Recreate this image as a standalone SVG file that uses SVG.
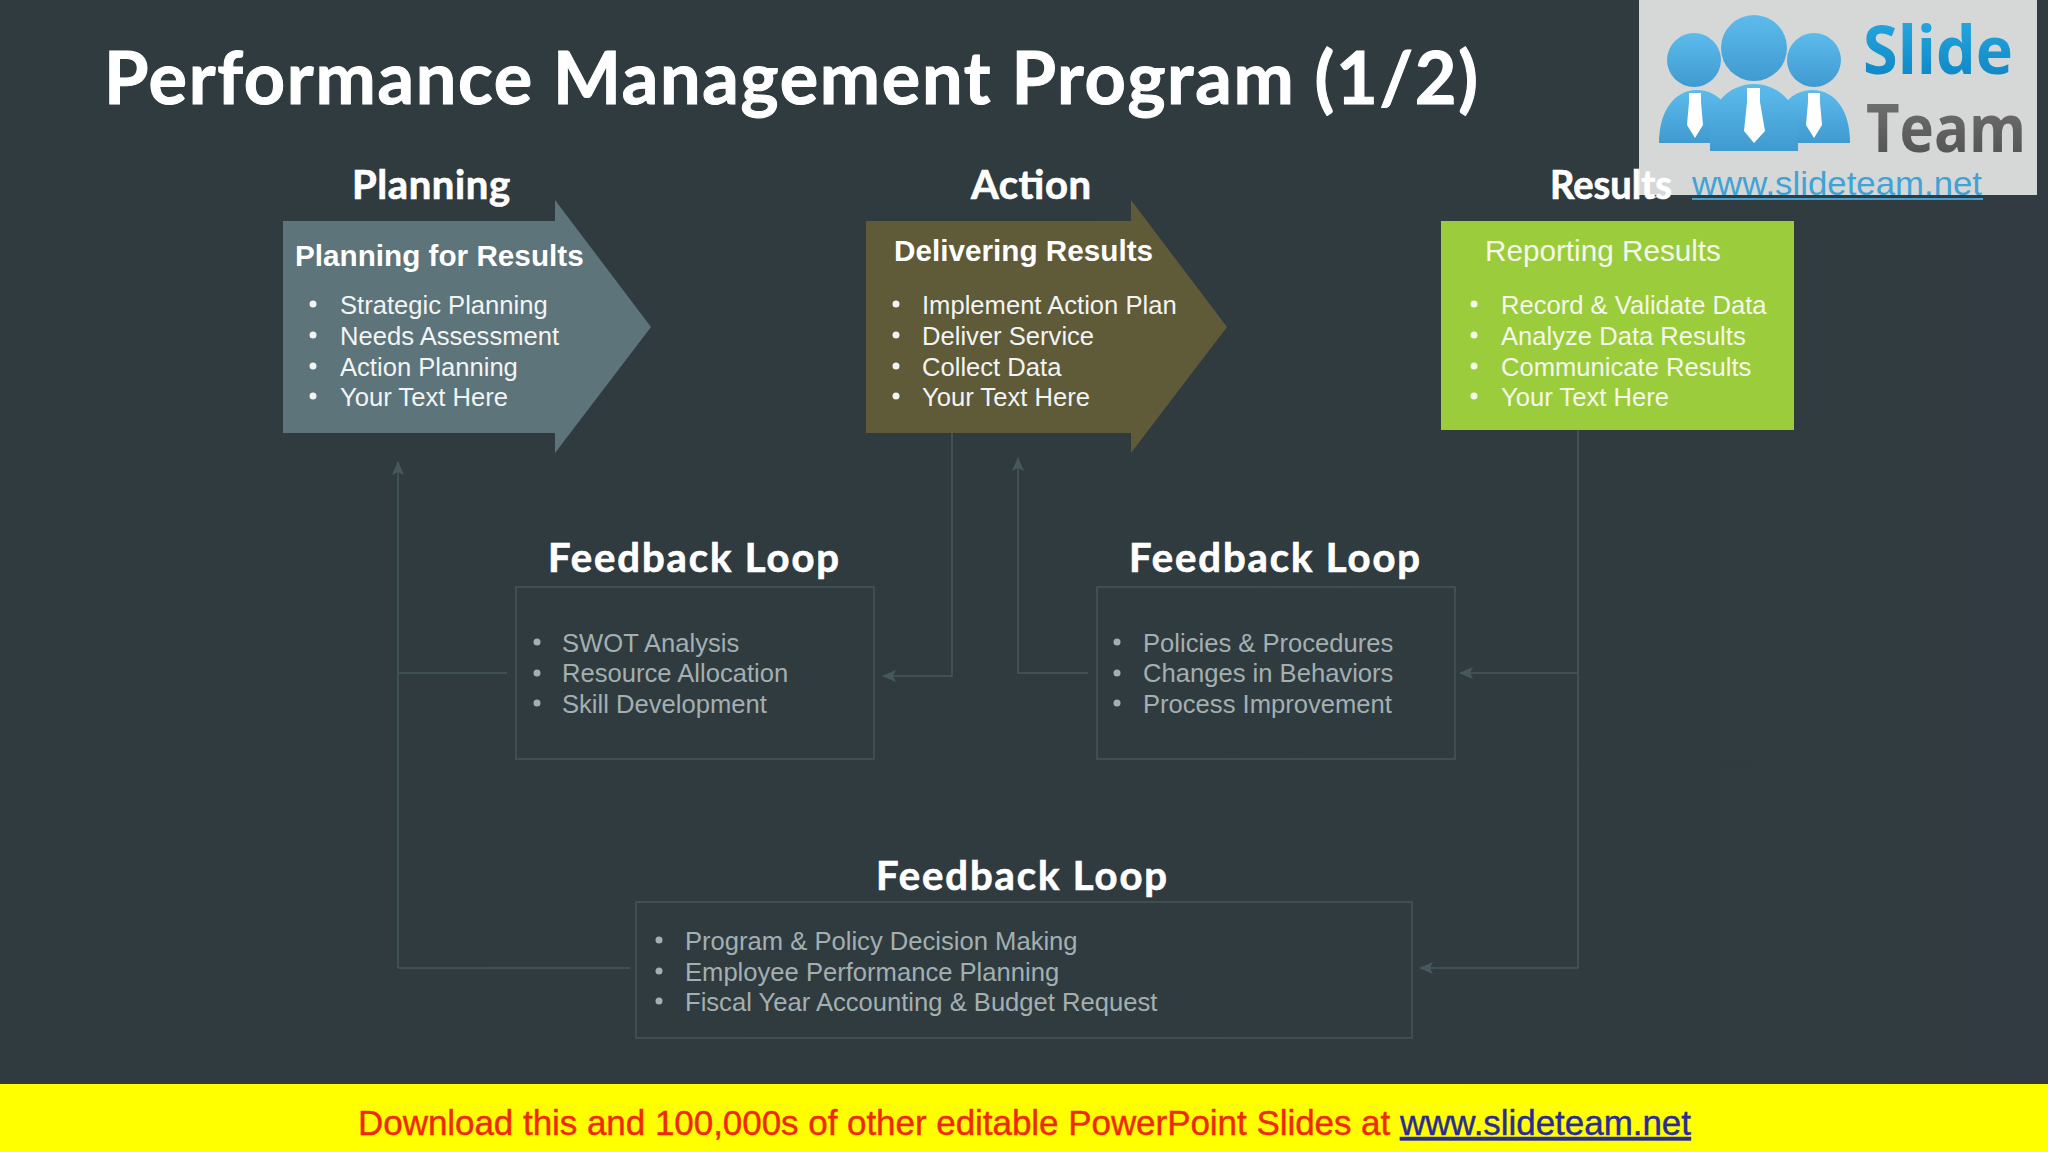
<svg xmlns="http://www.w3.org/2000/svg" width="2048" height="1152" viewBox="0 0 2048 1152">
<style>
.h{font-family:"Lato","Open Sans",sans-serif;font-weight:700;fill:#fff;font-size:40px;stroke:#fff;stroke-width:.7}
.t{font-family:"Liberation Sans",Arial,sans-serif;font-size:25.6px;fill:#f2f4f4}
.b{font-family:"Liberation Sans",Arial,sans-serif;font-weight:700;font-size:29.7px;fill:#fff}
.g{font-family:"Liberation Sans",Arial,sans-serif;font-size:25.6px;fill:#a3afb1}
.dw{fill:#f2f4f4}.dg{fill:#a3afb1}
.box{fill:none;stroke:#46555a;stroke-width:1.5}
.c{fill:none;stroke:#46585d;stroke-width:1.5}
.logoT{font-family:"Open Sans",sans-serif;font-weight:700}
</style>
<defs>
<marker id="ah" viewBox="0 0 14 12" refX="13" refY="6" markerWidth="14" markerHeight="12" orient="auto" markerUnits="userSpaceOnUse"><path d="M0,0 L14,6 L0,12 L3,6 Z" fill="#46585d"/></marker>
<linearGradient id="bg" x1="0" y1="0" x2="1" y2="0"><stop offset="0" stop-color="#2f3b3e"/><stop offset="1" stop-color="#313b41"/></linearGradient>
<linearGradient id="person" x1="0" y1="0" x2="0" y2="1"><stop offset="0" stop-color="#5dbbec"/><stop offset="1" stop-color="#3f9ad0"/></linearGradient>
<linearGradient id="slide" x1="0" y1="0" x2="0" y2="1"><stop offset="0" stop-color="#2bb0e6"/><stop offset="1" stop-color="#0a7fbe"/></linearGradient>
<linearGradient id="team" x1="0" y1="0" x2="0" y2="1"><stop offset="0" stop-color="#7a7a7a"/><stop offset="1" stop-color="#4c4c4c"/></linearGradient>
</defs>
<rect width="2048" height="1152" fill="url(#bg)"/>
<text x="104" y="104" font-family="Lato,'Open Sans',sans-serif" font-weight="700" font-size="72" fill="#fff" stroke="#fff" stroke-width="1" textLength="1374" lengthAdjust="spacing">Performance Management Program (1/2)</text>

<g id="connectors">
<path class="c" d="M398,968 V462" marker-end="url(#ah)"/>
<path class="c" d="M398,673 H507"/>
<path class="c" d="M630,968 H398"/>
<path class="c" d="M952,433 V676 H883" marker-end="url(#ah)"/>
<path class="c" d="M1088,673 H1018 V458" marker-end="url(#ah)"/>
<path class="c" d="M1578,430 V968 H1420" marker-end="url(#ah)"/>
<path class="c" d="M1578,673 H1460" marker-end="url(#ah)"/>
</g>

<g id="node-logo">
<rect x="1639" y="0" width="398" height="195" fill="#d6d8d8"/>
<circle cx="1694" cy="60" r="27" fill="url(#person)"/>
<circle cx="1754" cy="48" r="33" fill="url(#person)"/>
<circle cx="1814" cy="60" r="27" fill="url(#person)"/>
<path d="M1659,143 C1659,110 1675,90 1697,90 C1720,90 1735,110 1735,143 Z" fill="url(#person)"/>
<path d="M1773,143 C1773,110 1790,90 1812,90 C1835,90 1850,110 1850,143 Z" fill="url(#person)"/>
<path d="M1710,151 V130 C1710,103 1730,84 1754,84 C1778,84 1798,103 1798,130 V151 Z" fill="url(#person)"/>
<path d="M1689,93 H1701 V102 L1703,125 L1695,138 L1687,125 L1689,102 Z" fill="#fff"/>
<path d="M1747,88 H1760 V102 L1765,131 L1754,143 L1744,131 L1747,102 Z" fill="#fff"/>
<path d="M1808,93 H1820 V102 L1822,125 L1814,138 L1806,125 L1808,102 Z" fill="#fff"/>
<text class="logoT" x="1863" y="74" font-size="66" fill="url(#slide)" textLength="150" lengthAdjust="spacingAndGlyphs">Slide</text>
<text class="logoT" x="1866" y="152" font-size="66" fill="url(#team)" textLength="160" lengthAdjust="spacingAndGlyphs">Team</text>
<text x="1692" y="195" font-family="Liberation Sans,Arial,sans-serif" font-size="34" fill="#3fa3d6" textLength="290" lengthAdjust="spacingAndGlyphs">www.slideteam.net</text>
<rect x="1692" y="198" width="291" height="2" fill="#3fa3d6"/>
</g>

<g id="node-planning">
<text class="h" x="352" y="199" textLength="158">Planning</text>
<path d="M283,221 H555 V200 L651,327 L555,453 V433 H283 Z" fill="#5d747a"/>
<text class="b" x="295" y="266">Planning for Results</text>
<text class="t" x="340" y="314">Strategic Planning</text><text class="t" x="340" y="345">Needs Assessment</text><text class="t" x="340" y="376">Action Planning</text><text class="t" x="340" y="406">Your Text Here</text>
<g class="dw"><circle cx="313" cy="304" r="3.5"/><circle cx="313" cy="335" r="3.5"/><circle cx="313" cy="366" r="3.5"/><circle cx="313" cy="396" r="3.5"/></g>
</g>

<g id="node-action">
<text class="h" x="971" y="199" textLength="120">Action</text>
<path d="M866,221 H1131 V200 L1227,327 L1131,453 V433 H866 Z" fill="#5f5a38"/>
<text class="b" x="894" y="261">Delivering Results</text>
<text class="t" x="922" y="314">Implement Action Plan</text><text class="t" x="922" y="345">Deliver Service</text><text class="t" x="922" y="376">Collect Data</text><text class="t" x="922" y="406">Your Text Here</text>
<g class="dw"><circle cx="896" cy="304" r="3.5"/><circle cx="896" cy="335" r="3.5"/><circle cx="896" cy="366" r="3.5"/><circle cx="896" cy="396" r="3.5"/></g>
</g>

<g id="node-results">
<text class="h" x="1550" y="199" textLength="122" lengthAdjust="spacingAndGlyphs">Results</text>
<rect x="1441" y="221" width="353" height="209" fill="#9bcc3c"/>
<text x="1485" y="261" font-family="Liberation Sans,Arial,sans-serif" font-size="29.7" fill="#f4f8ea">Reporting Results</text>
<g fill="#f4f8ea" font-family="Liberation Sans,Arial,sans-serif" font-size="25.6"><text x="1501" y="314">Record &amp; Validate Data</text><text x="1501" y="345">Analyze Data Results</text><text x="1501" y="376">Communicate Results</text><text x="1501" y="406">Your Text Here</text>
<circle cx="1474" cy="304" r="3.5"/><circle cx="1474" cy="335" r="3.5"/><circle cx="1474" cy="366" r="3.5"/><circle cx="1474" cy="396" r="3.5"/></g>
</g>

<g id="node-feedback1">
<text class="h" x="548" y="572" textLength="291">Feedback Loop</text>
<rect class="box" x="516" y="587" width="358" height="172"/>
<text class="g" x="562" y="652">SWOT Analysis</text><text class="g" x="562" y="682">Resource Allocation</text><text class="g" x="562" y="713">Skill Development</text>
<g class="dg"><circle cx="537" cy="642" r="3.5"/><circle cx="537" cy="673" r="3.5"/><circle cx="537" cy="703" r="3.5"/></g>
</g>

<g id="node-feedback2">
<text class="h" x="1129" y="572" textLength="291">Feedback Loop</text>
<rect class="box" x="1097" y="587" width="358" height="172"/>
<text class="g" x="1143" y="652">Policies &amp; Procedures</text><text class="g" x="1143" y="682">Changes in Behaviors</text><text class="g" x="1143" y="713">Process Improvement</text>
<g class="dg"><circle cx="1117" cy="642" r="3.5"/><circle cx="1117" cy="673" r="3.5"/><circle cx="1117" cy="703" r="3.5"/></g>
</g>

<g id="node-feedback3">
<text class="h" x="876" y="890" textLength="291">Feedback Loop</text>
<rect class="box" x="636" y="902" width="776" height="136"/>
<text class="g" x="685" y="950">Program &amp; Policy Decision Making</text><text class="g" x="685" y="981">Employee Performance Planning</text><text class="g" x="685" y="1011">Fiscal Year Accounting &amp; Budget Request</text>
<g class="dg"><circle cx="659" cy="940" r="3.5"/><circle cx="659" cy="971" r="3.5"/><circle cx="659" cy="1001" r="3.5"/></g>
</g>

<g id="node-banner">
<rect x="0" y="1084" width="2048" height="68" fill="#ffff00"/>
<text x="358" y="1135" font-family="Liberation Sans,Arial,sans-serif" font-size="35" stroke-width=".4" stroke="#f0280a" fill="#f0280a" textLength="1333" lengthAdjust="spacing">Download this and 100,000s of other editable PowerPoint Slides at <tspan fill="#2a2a9a" stroke="#2a2a9a" text-decoration="underline">www.slideteam.net</tspan></text>
</g>
</svg>
